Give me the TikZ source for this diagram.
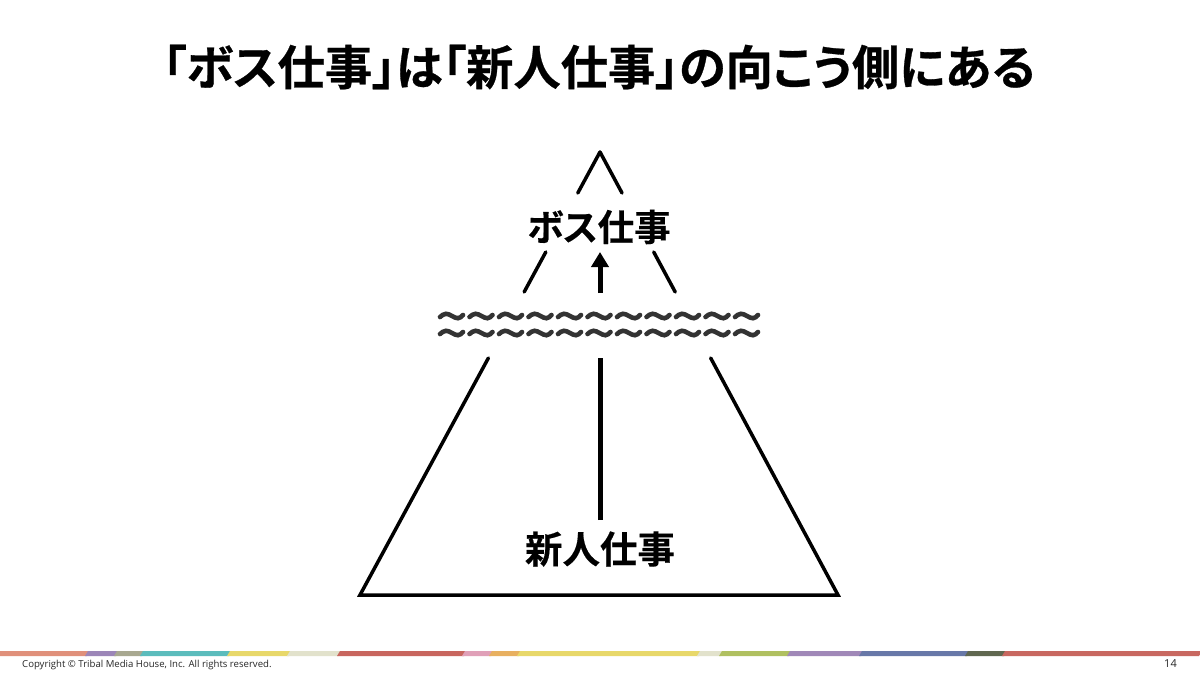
\documentclass[tikz,border=0pt]{standalone}
\usepackage{fontspec}
\newfontfamily\jp[RawFeature=+palt,FakeBold=0.6]{Noto Sans CJK JP Bold}
\newfontfamily\jpl[RawFeature=+palt,FakeBold=0.4]{Noto Sans CJK JP Bold}
\setmainfont{Open Sans}
\usetikzlibrary{arrows.meta,calc}
\definecolor{cA}{HTML}{E0907A}
\definecolor{cB}{HTML}{9C86B8}
\definecolor{cC}{HTML}{A8A890}
\definecolor{cD}{HTML}{5BBCBC}
\definecolor{cE}{HTML}{E8D86A}
\definecolor{cF}{HTML}{E2E2CC}
\definecolor{cG}{HTML}{C8665E}
\definecolor{cH}{HTML}{E0A0B8}
\definecolor{cI}{HTML}{E8B060}
\definecolor{cJ}{HTML}{B0C060}
\definecolor{cK}{HTML}{A088B8}
\definecolor{cL}{HTML}{6878A8}
\definecolor{cM}{HTML}{606850}
\definecolor{cN}{HTML}{C86860}
\tikzset{
  tri/.style={line width=3.5pt, line cap=round},
  shaft/.style={line width=5pt},
  wave/.style={line width=4.6pt, line cap=round, color=black!80},
  lab/.style={inner sep=0pt},
}
\begin{document}
\begin{tikzpicture}[x=1pt,y=-1pt]
\useasboundingbox (0,0) rectangle (1200,675);
\fill[white] (0,0) rectangle (1200,675);
% title
\node[inner sep=0pt, font=\jp\fontsize{47.3}{50}\selectfont] (title) at (599,67) {「ボス仕事」は「新人仕事」の向こう側にある};
% triangle
\coordinate (apex) at (600,152);
\coordinate (bl) at (360,595);
\coordinate (br) at (838,595);
\draw[tri] (apex) -- ($(apex)!0.0926!(bl)$);
\draw[tri] ($(apex)!0.2257!(bl)$) -- ($(apex)!0.3160!(bl)$);
\draw[tri] ($(apex)!0.4650!(bl)$) -- (bl) -- (br) -- ($(apex)!0.4650!(br)$);
\draw[tri] ($(apex)!0.2257!(br)$) -- ($(apex)!0.3160!(br)$);
\draw[tri] (apex) -- ($(apex)!0.0926!(br)$);
% labels
\node[lab, font=\jpl\fontsize{36.5}{40}\selectfont] (boss) at (599,227) {ボス仕事};
\node[lab, font=\jpl\fontsize{37.5}{40}\selectfont] (newbie) at (600,549) {新人仕事};
% arrows
\coordinate (a1) at (600,293);
\coordinate (a2) at (600,252);
\draw[shaft, -{Triangle[width=17pt,length=15pt]}] (a1) -- (a2);
\coordinate (b1) at (600,520);
\coordinate (b2) at (600,358);
\draw[shaft] (b1) -- (b2);
% waves
\foreach \row in {316,333}{
  \foreach \i in {0,...,10}{
    \pgfmathsetmacro{\xx}{440+29.5*\i}
    \draw[wave] (\xx,\row+1) sin (\xx+6,\row-2.2) cos (\xx+12,\row) sin (\xx+18,\row+2.2) cos (\xx+23,\row-1);
  }
}
% footer bar
\foreach \a/\b/\c in {0/88/cA,88/117/cB,117/143/cC,143/230/cD,230/290/cE,290/340/cF,340/465/cG,465/492/cH,492/520/cI,520/700/cE,700/722/cF,722/790/cJ,790/862/cK,862/968/cL,968/1005/cM,1005/1200/cN}{
  \fill[\c] (\a,651) -- (\b+2,651) -- (\b-1,656) -- (\a-3,656) -- cycle;
}
\node[anchor=west, inner sep=0pt, font=\fontsize{9.6}{11}\selectfont, text=black!85] (copy) at (22,665) {Copyright © Tribal Media House, Inc. All rights reserved.};
\node[anchor=east, inner sep=0pt, font=\fontsize{11}{12}\selectfont, text=black!85] (page) at (1177,664) {14};
\end{tikzpicture}
\end{document}
